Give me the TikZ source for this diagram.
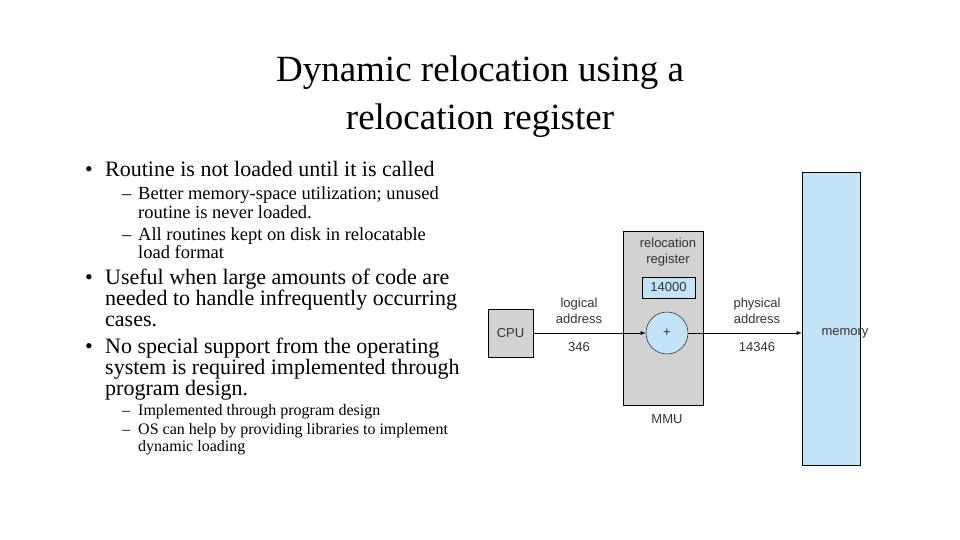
\documentclass[tikz,border=0pt]{standalone}
\usepackage{fontspec}
\setmainfont{Liberation Serif}
\newfontfamily\diagfont{Liberation Sans}
\usetikzlibrary{arrows,positioning,shapes}
\definecolor{mmugray}{RGB}{210,210,210}
\definecolor{memblue}{RGB}{195,228,246}
\begin{document}
\begin{tikzpicture}[x=1pt,y=-1pt,
  every node/.style={inner sep=0pt},
  bul/.style={anchor=base west,font=\fontsize{22}{24}\selectfont},
  sub/.style={anchor=base west,font=\fontsize{18.5}{20}\selectfont},
  subs/.style={anchor=base west,font=\fontsize{16}{18}\selectfont},
  box/.style={draw,thin,rectangle},
  lbl/.style={font=\diagfont\fontsize{13}{16}\selectfont,align=center,text=black!80}
]
\useasboundingbox (0,0) rectangle (960,540);

\node[font=\fontsize{37}{48}\selectfont,align=center] (title) at (480,97)
  {Dynamic relocation using a\\relocation register};

% bullets
\node[bul] (d1) at (85,177) {\textbullet};
\node[bul] (t1) at (105,177) {Routine is not loaded until it is called};
\node[sub] (s1) at (122,200) {--};
\node[sub] at (138,200) {Better memory-space utilization; unused};
\node[sub] at (138,218) {routine is never loaded.};
\node[sub] (s2) at (122,240) {--};
\node[sub] at (138,240) {All routines kept on disk in relocatable};
\node[sub] at (138,258) {load format};
\node[bul] (d2) at (85,284) {\textbullet};
\node[bul] at (105,284) {Useful when large amounts of code are};
\node[bul] at (105,305) {needed to handle infrequently occurring};
\node[bul] at (105,326) {cases.};
\node[bul] (d3) at (85,353) {\textbullet};
\node[bul] at (105,353) {No special support from the operating};
\node[bul] at (105,374) {system is required implemented through};
\node[bul] at (105,395) {program design.};
\node[subs] (s3) at (122,415) {--};
\node[subs] at (138,415) {Implemented through program design};
\node[subs] (s4) at (122,434) {--};
\node[subs] at (138,434) {OS can help by providing libraries to implement};
\node[subs] at (138,451) {dynamic loading};

% diagram
\node[box,fill=mmugray,minimum width=45,minimum height=48,lbl] (cpu) at (510.5,333) {CPU};
\node[box,fill=mmugray,minimum width=80,minimum height=174] (mmu) at (663,318) {};
\node[lbl] (reg) at (668,252) {relocation\\register};
\node[box,fill=memblue,minimum width=53,minimum height=21,lbl] (val) at (668.5,287.5) {14000};
\node[draw,thin,circle,fill=memblue,minimum size=42,lbl] (add) at (667,333) {+};
\node[lbl] (mmulbl) at (667,419) {MMU};
\node[box,fill=memblue,minimum width=58,minimum height=293] (mem) at (831,318.5) {};
\node[lbl] (memlbl) at (845,333) {memory};

\node[lbl] (la) at (579,311) {logical\\address};
\node[lbl] (lv) at (579,347) {346};
\node[lbl] (pa) at (757,311) {physical\\address};
\node[lbl] (pv) at (757,347) {14346};

\draw[->,>=latex,thick] (cpu) -- (add);
\draw[->,>=latex,thick] (add) -- (mem.west |- add);
\end{tikzpicture}
\end{document}
